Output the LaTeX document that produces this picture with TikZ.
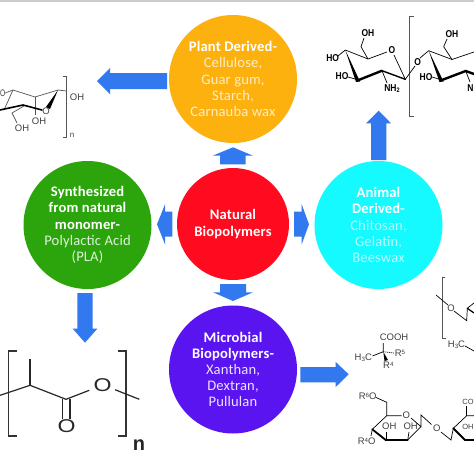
\documentclass[tikz,border=0pt]{standalone}
\usepackage{fontspec}
\setmainfont[LetterSpace=1]{Carlito}
\newfontfamily\chemf{Liberation Sans}
\definecolor{arrowblue}{HTML}{3279F0}
\definecolor{plantc}{HTML}{FDB10F}
\definecolor{greenc}{HTML}{2CA50C}
\definecolor{redc}{HTML}{FF0A1E}
\definecolor{cyanc}{HTML}{14FAFF}
\definecolor{purplec}{HTML}{5A14F0}
\definecolor{chemgray}{HTML}{555555}
\newcommand{\hiS}[1]{\raisebox{.4ex}{\scalebox{.65}{#1}}}
\newcommand{\loS}[1]{\raisebox{-.25ex}{\scalebox{.65}{#1}}}
\newcommand{\hd}[1]{{\bfseries\color{white}#1}}
\tikzset{
  blobnode/.style={circle,inner sep=0pt,align=center,font=\fontsize{14.6}{16.2}\selectfont},
  blockarrow/.style={fill=arrowblue,draw=none},
  chemlabel/.style={inner sep=0pt,font=\chemf\fontsize{9.5}{10}\selectfont,text=black!75},
  chemblack/.style={inner sep=0pt,xscale=.85,font=\chemf\bfseries\fontsize{10}{11}\selectfont,text=black},
  bond/.style={line width=.7pt,draw=black},
  graybond/.style={line width=.7pt,draw=chemgray},
  bigbond/.style={line width=1.2pt,draw=black!85},
  heavy/.style={line width=2.4pt,draw=black,line cap=round},
  bracket/.style={line width=1pt,draw=chemgray}
}
\begin{document}
\begin{tikzpicture}[x=1pt,y=-1pt]
\useasboundingbox (0,0) rectangle (474,474);
\clip (0,0) rectangle (474,474);
\fill[white] (0,0) rectangle (474,474);
\fill[black!20] (0,0) rectangle (474,2);

% circles
\node[blobnode,fill=plantc,minimum size=128pt,text=plantc!25!white] (plant) at (233,79)
  {\hd{Plant Derived-}\\Cellulose,\\Guar gum,\\Starch,\\Carnauba wax};
\node[blobnode,fill=greenc,minimum size=128pt,text=greenc!15!white] (synth) at (87.5,225)
  {\hd{Synthesized}\\\hd{from natural}\\\hd{monomer-}\\Polylactic Acid\\(PLA)};
\node[blobnode,fill=redc,minimum size=112pt,text=white] (natural) at (233,224)
  {\hd{Natural}\\\hd{Biopolymers}};
\node[blobnode,fill=cyanc,minimum size=128pt,text=cyanc!30!white] (animal) at (378.5,225)
  {\hd{Animal}\\\hd{Derived-}\\Chitosan,\\Gelatin,\\Beeswax};
\node[blobnode,fill=purplec,minimum size=128pt,text=purplec!12!white] (microbial) at (233,369.5)
  {\hd{Microbial}\\\hd{Biopolymers-}\\Xanthan,\\Dextran,\\Pullulan};

% block arrows, placed relative to their source node
\path[blockarrow,shift={(natural.center)}] (0,-76.7)--(20,-68.3)--(12.7,-68.3)--(12.7,-59.7)--(-13,-59.7)--(-13,-68.3)--(-20.3,-68.3)--cycle;
\path[blockarrow,shift={(natural.center)}] (0,77)--(20,68.3)--(13,68.3)--(13,60)--(-13,60)--(-13,68.3)--(-20,68.3)--cycle;
\path[blockarrow,shift={(natural.center)}] (-76,0.3)--(-68,-19.7)--(-68,-12.3)--(-60.7,-12.3)--(-60.7,12.7)--(-68,12.7)--(-68,20.3)--cycle;
\path[blockarrow,shift={(natural.center)}] (76,0.3)--(68.7,-19.7)--(68.7,-12.3)--(61,-12.3)--(61,12.7)--(68.7,12.7)--(68.7,20.3)--cycle;
\path[blockarrow,shift={(plant.center)}] (-136,2)--(-123,-11)--(-123,-6)--(-66,-6)--(-66,10)--(-123,10)--(-123,15)--cycle;
\path[blockarrow,shift={(animal.center)}] (0.2,-114.3)--(12.5,-101.7)--(7.8,-101.7)--(7.8,-65)--(-7.5,-65)--(-7.5,-101.7)--(-12.5,-101.7)--cycle;
\path[blockarrow,shift={(synth.center)}] (-2.5,117.7)--(9.8,103.7)--(5.2,103.7)--(5.2,68)--(-10.2,68)--(-10.2,103.7)--(-14.8,103.7)--cycle;
\path[blockarrow,shift={(microbial.center)}] (115.7,4.8)--(102.7,-7.5)--(102.7,-2.5)--(67.3,-2.5)--(67.3,12.8)--(102.7,12.8)--(102.7,17.5)--cycle;

% cellulose fragment
\draw[graybond] (5,93)--(13,90)--(35,97)--(58,90);
\draw[graybond] (13,90)--(4,110);
\draw[graybond] (35,97)--(35,115);
\draw[graybond] (58,90)--(66,91);
\draw[graybond] (24,106)--(12,113)--(17,123);
\draw[heavy,line width=1.6pt] (0,110)--(23,105)--(42,110);
\fill[black] (58,90)--(46,107)--(50,109)--cycle;
\draw[bracket] (62.7,76.7)--(66.7,76.7)--(66.7,137.3)--(62.7,137.3);
\node[chemlabel,anchor=west,xscale=.7] (o1) at (0,93) {O};
\node[chemlabel] (o2) at (46,111) {O};
\node[chemlabel] (oh1) at (77,97) {OH};
\node[chemlabel] (oh2) at (39,121) {OH};
\node[chemlabel] (oh3) at (22,128) {OH};
\node[chemlabel,font=\chemf\fontsize{8}{9}\selectfont] (n1) at (72,135) {n};

% chitosan fragment
\draw[bracket] (413.7,16.7)--(409.7,16.7)--(409.7,116)--(413.7,116);
\draw[bond] (345.3,50)--(368,59)--(387,52);
\draw[bond] (394,55)--(405.3,79.3);
\draw[bond] (368,59)--(361,46.7)--(364,38);
\draw[bond] (338,56)--(345.3,50);
\draw[bond] (348,77)--(358.7,80);
\draw[bond] (382,70.7)--(387,83);
\draw[bond] (405.3,79.3)--(415,66);
\draw[bond] (420,58)--(428.7,50.7)--(452,59.5)--(474,52);
\draw[bond] (452,59.5)--(443.7,46.7)--(447,39);
\draw[bond] (432,77)--(442,80);
\draw[bond] (465.7,71)--(470,82);
\fill[black] (345.3,50)--(360,81.5)--(356,82)--cycle;
\fill[black] (428.7,50.7)--(443.5,81.5)--(439.5,82)--cycle;
\draw[heavy] (358.7,80)--(382,70.7);
\draw[heavy,line width=1.4pt] (382,70.7)--(405.3,79.3);
\draw[heavy] (442,80)--(465.7,71)--(474,74);
\node[chemblack] (hoa) at (332.7,58.3) {HO};
\node[chemblack] (hob) at (342,76) {HO};
\node[chemblack] (oha) at (368,33.3) {OH};
\node[chemblack] (oa) at (392,50) {O};
\node[chemblack] (nha) at (392,88.3) {NH\loS{2}};
\node[chemblack] (ob) at (417.7,62) {O};
\node[chemblack] (hoc) at (426,77) {HO};
\node[chemblack] (ohb) at (452,34) {OH};
\node[chemblack,anchor=east] (nhb) at (473.8,88.3) {N};

% right fragment
\draw[bracket,line width=.8pt] (445,277.3)--(442,277.3)--(442,338.3)--(446,338.3);
\draw[bond] (436,295)--(448,305);
\draw[bond] (454,311)--(466.7,320.7)--(467.3,308.3)--(474,303);
\draw[heavy,line width=1.2pt] (467.3,308.3)--(474,313);
\draw[bond] (465,346)--(474,351);
\node[chemlabel] (oc) at (451,308.3) {O};
\node[chemlabel] (h3ca) at (456.5,344.7) {H\loS{3}C};

% amino acid fragment
\draw[bond] (383.3,343)--(383.3,351.7)--(372.5,356);
\draw[bond,dashed,dash pattern=on 1pt off 1pt] (383.3,351.7)--(394,353);
\fill[black] (383.3,351.7)--(384.5,361)--(388,360)--cycle;
\node[chemlabel] (cooh) at (394,337.7) {COOH};
\node[chemlabel] (h3cb) at (363.3,357.7) {H\loS{3}C};
\node[chemlabel] (r5) at (400,353.3) {R\hiS{5}};
\node[chemlabel] (r4) at (388.3,365) {R\hiS{4}};

% sugar fragment
\draw[bond] (375.7,397.3)--(386.7,402.3)--(386.7,415.7)--(401.5,415.7);
\draw[bond] (411,418)--(421,426.7)--(421,415)--(431.5,424.5);
\draw[bond] (386.7,415.7)--(372.3,429.3)--(371,436);
\draw[bond] (421,426.7)--(407.7,440);
\draw[bond] (441,432)--(451,440)--(453.3,428.3)--(466.7,415.7)--(474,415.7);
\draw[bond] (466.7,415.7)--(466.7,406);
\draw[bond] (386,440)--(386,432);
\draw[bond] (407.7,440)--(409,432);
\draw[heavy,line width=1.8pt] (372.3,429.3)--(385.7,440)--(407.7,440);
\draw[heavy,line width=1.8pt] (453.3,428.3)--(465,440)--(474,440);
\node[chemlabel] (r6o) at (367.7,396) {R\hiS{6}O};
\node[chemlabel] (od) at (406.3,415.7) {O};
\node[chemlabel] (ohc) at (389.3,426.7) {OH};
\node[chemlabel] (ohd) at (410.7,426.7) {OH};
\node[chemlabel] (r4o) at (366.7,441.7) {R\hiS{4}O};
\node[chemlabel] (oe) at (436.7,428.3) {O};
\node[chemlabel,anchor=east,font=\chemf\fontsize{7.5}{8}\selectfont] (ohe) at (473.8,426.7) {OH};
\node[chemlabel,anchor=east,font=\chemf\fontsize{7.5}{8}\selectfont] (coo) at (473.8,402) {CO};

% polylactic acid
\draw[bracket,line width=1.2pt,draw=black!80] (16.7,351)--(8.3,351)--(8.3,436)--(16.7,436);
\draw[bracket,line width=1.2pt,draw=black!80] (118.3,351)--(126,351)--(126,436)--(118.3,436);
\draw[bigbond] (0,395.3)--(30,385.3)--(66,399.3)--(89.3,390.3);
\draw[bigbond] (30,385.3)--(30,358.7);
\draw[bigbond] (115,389.7)--(139.3,399.3);
\draw[bigbond] (62.7,399.3)--(62.7,419);
\draw[bigbond] (70,399.3)--(70,419);
\node[inner sep=0pt,xscale=1.25,text=black!85,font=\chemf\fontsize{18.5}{19}\selectfont] (op1) at (102.7,385.3) {O};
\node[inner sep=0pt,xscale=1.25,text=black!85,font=\chemf\fontsize{18.5}{19}\selectfont] (op2) at (66.7,426.3) {O};
\node[inner sep=0pt,text=black!85,font=\chemf\bfseries\fontsize{20}{20}\selectfont] (n2) at (139,445) {n};
\end{tikzpicture}
\end{document}
